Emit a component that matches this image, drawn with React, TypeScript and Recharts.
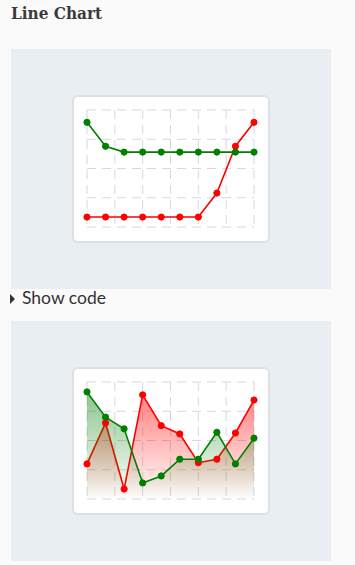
import { ComposedChart, Line, Area, XAxis, YAxis, CartesianGrid } from 'recharts';

const points = [0, 1, 2, 3, 4, 5, 6, 7, 8, 9];
const firstGreen = [89.5, 69, 64, 64, 64, 64, 64, 64, 64, 64];
const firstRed = [8.5, 8.5, 8.5, 8.5, 8.5, 8.5, 8.5, 29, 69, 89.5];
const secondGreen = [91.5, 70, 60, 13.7, 19.7, 34, 34, 57, 30, 52];
const secondRed = [30, 65, 8.5, 89, 62.7, 55.6, 31, 34, 56.4, 84.6];
const xGridTicks = [0, 1.5, 3, 4.5, 6, 7.5, 9];
const yGridTicks = [0, 25, 50, 75, 100];

const GREEN = '#008000';
const RED = '#ff0000';
const GRID = '#d3d9df';

const rows = (green: number[], red: number[]) =>
  points.map((x, i) => ({ x, green: green[i], red: red[i] }));

const margin = { top: 15, right: 16, bottom: 16, left: 15 };

const dot = (c: string) => ({ r: 3.1, fill: c, stroke: c, strokeWidth: 1 });

const FirstChart = () => (
  <ComposedChart width={198} height={148} data={rows(firstGreen, firstRed)} margin={margin}>
    <CartesianGrid stroke={GRID} strokeDasharray="9 6" />
    <XAxis hide type="number" dataKey="x" domain={[0, 9]} ticks={xGridTicks} />
    <YAxis hide type="number" domain={[0, 100]} ticks={yGridTicks} />
    <Line dataKey="red" stroke={RED} strokeWidth={1.6} dot={dot(RED)} isAnimationActive={false} />
    <Line dataKey="green" stroke={GREEN} strokeWidth={1.6} dot={dot(GREEN)} isAnimationActive={false} />
  </ComposedChart>
);

const SecondChart = () => (
  <ComposedChart width={198} height={148} data={rows(secondGreen, secondRed)} margin={margin}>
    <defs>
      <linearGradient id="fadeRed" x1="0" y1="0" x2="0" y2="1">
        <stop offset="0%" stopColor={RED} stopOpacity={0.5} />
        <stop offset="100%" stopColor={RED} stopOpacity={0} />
      </linearGradient>
      <linearGradient id="fadeGreen" x1="0" y1="0" x2="0" y2="1">
        <stop offset="0%" stopColor={GREEN} stopOpacity={0.45} />
        <stop offset="100%" stopColor={GREEN} stopOpacity={0} />
      </linearGradient>
    </defs>
    <CartesianGrid stroke={GRID} strokeDasharray="9 6" />
    <XAxis hide type="number" dataKey="x" domain={[0, 9]} ticks={xGridTicks} />
    <YAxis hide type="number" domain={[0, 100]} ticks={yGridTicks} />
    <Area type="linear" dataKey="red" stroke={RED} strokeWidth={1.6} fill="url(#fadeRed)" fillOpacity={1} dot={dot(RED)} isAnimationActive={false} />
    <Area type="linear" dataKey="green" stroke={GREEN} strokeWidth={1.6} fill="url(#fadeGreen)" fillOpacity={1} dot={dot(GREEN)} isAnimationActive={false} />
  </ComposedChart>
);

const panel = (top: number): React.CSSProperties => ({
  position: 'absolute', left: 11, top, width: 320, height: 240, background: '#e9eef2',
});

const card = (top: number): React.CSSProperties => ({
  position: 'absolute', left: 72, top, width: 198, height: 148,
});

const cardFrame: React.CSSProperties = {
  position: 'absolute', left: 0, top: 0, width: 198, height: 148, boxSizing: 'border-box',
  background: '#fff', border: '2px solid #dce1e6', borderRadius: 6,
};

export default function App() {
  return (
    <div style={{ position: 'absolute', left: 0, top: 0, width: 355, height: 565, background: '#fafafa', overflow: 'hidden' }}>
      <div style={{ position: 'absolute', left: 11, top: 3, fontFamily: '"DejaVu Serif", serif', fontWeight: 700, fontSize: 17, fontStretch: 'condensed', color: '#3a3a3a', whiteSpace: 'nowrap' }}>
        Line Chart
      </div>
      <div style={panel(49)} />
      <div style={card(95)}>
        <div style={cardFrame} />
        <div style={{ position: 'absolute', left: 0, top: 0 }}><FirstChart /></div>
      </div>
      <div style={{ position: 'absolute', left: 10, top: 294, width: 0, height: 0, borderLeft: '5px solid #333', borderTop: '5px solid transparent', borderBottom: '5px solid transparent' }} />
      <div style={{ position: 'absolute', left: 22, top: 287, fontFamily: 'Lato, sans-serif', fontSize: 17.5, color: '#333', whiteSpace: 'nowrap' }}>
        Show code
      </div>
      <div style={panel(321)} />
      <div style={card(367)}>
        <div style={cardFrame} />
        <div style={{ position: 'absolute', left: 0, top: 0 }}><SecondChart /></div>
      </div>
    </div>
  );
}
